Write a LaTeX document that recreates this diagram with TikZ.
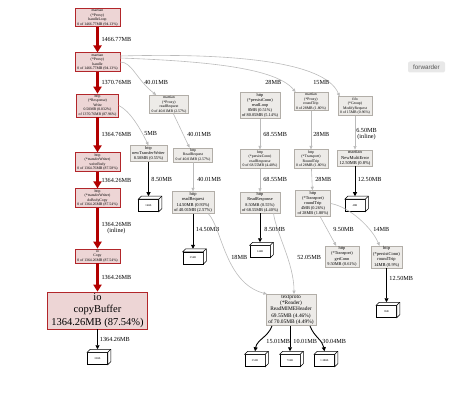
\documentclass[tikz,border=0pt]{standalone}
\usepackage{fontspec}
\setmainfont{Liberation Serif}
\newfontfamily\legendfont{Liberation Sans}
\usepackage{xcolor}
\usepackage{tikz}
\usetikzlibrary{shapes,arrows,arrows.meta,positioning}

\definecolor{hotfill}{HTML}{EDD5D5}
\definecolor{hotdraw}{HTML}{B2262A}
\definecolor{hotarrow}{HTML}{B20000}
\definecolor{coldfill}{HTML}{EDEBE8}
\definecolor{colddraw}{HTML}{B2AEA8}
\definecolor{coldarrow}{HTML}{BBBBBB}
\definecolor{legendfill}{HTML}{E8E8E8}
\definecolor{legendtext}{HTML}{555555}

\begin{document}
\begin{tikzpicture}[x=1pt, y=1pt,
    hotnode/.style={rectangle, draw=hotdraw, fill=hotfill, line width=0.6pt, align=center, inner xsep=2.2pt, inner ysep=0.8pt},
    coldnode/.style={rectangle, draw=colddraw, fill=coldfill, line width=0.5pt, align=center, inner xsep=2.2pt, inner ysep=0.8pt},
    flatzero/.style={font=\fontsize{3.8}{4.5}\selectfont},
    flatsome/.style={font=\fontsize{4.3}{5.1}\selectfont},
    flatmore/.style={font=\fontsize{4.5}{5.4}\selectfont},
    leafnode/.style={rectangle, draw, fill=white, line width=0.5pt, minimum width=20pt, minimum height=12pt, inner sep=0pt, font=\fontsize{2.8}{3.2}\selectfont},
    lbl/.style={font=\fontsize{6.2}{6.8}\selectfont, align=center, inner sep=0pt},
    hotlink/.style={draw=hotarrow, line width=3pt, -{Triangle[width=8pt,length=7pt]}},
    coldlink/.style={draw=coldarrow, line width=0.6pt, -{Triangle[width=3pt,length=3.5pt]}},
    leaflink/.style={draw=black, line width=0.9pt, -{Triangle[width=4pt,length=4pt]}}]
    \useasboundingbox (0,0) rectangle (474,413);

    \node[hotnode, flatzero] (handleLoop) at (97.5,395.5) {martian\\(*Proxy)\\handleLoop\\0 of 1466.77MB (94.13\%)};
    \node[hotnode, flatzero] (handle) at (97.5,351) {martian\\(*Proxy)\\handle\\0 of 1466.77MB (94.13\%)};
    \node[hotnode, flatzero] (respWrite) at (97.5,307.5) {http\\(*Response)\\Write\\0.50MB (0.032\%)\\of 1370.76MB (87.96\%)};
    \node[hotnode, flatzero] (writeBody) at (97.5,251) {http\\(*transferWriter)\\writeBody\\0 of 1364.76MB (87.58\%)};
    \node[hotnode, flatzero] (doBodyCopy) at (97.5,215) {http\\(*transferWriter)\\doBodyCopy\\0 of 1364.26MB (87.54\%)};
    \node[hotnode, flatzero] (ioCopy) at (97.5,157) {io\\Copy\\0 of 1364.26MB (87.54\%)};
    \node[hotnode, font=\fontsize{10.5}{12.2}\selectfont, minimum width=100pt, minimum height=37pt] (copyBuffer) at (97.5,102.5) {io\\copyBuffer\\1364.26MB (87.54\%)};
    \node[leafnode] (bufLeaf) at (97.5,54.5) {32kB};

    \node[coldnode, flatzero] (readReqProxy) at (169,308.5) {martian\\(*Proxy)\\readRequest\\0 of 40.01MB (2.57\%)};
    \node[coldnode, flatsome] (newTW) at (148.5,259.5) {http\\newTransferWriter\\8.50MB (0.55\%)};
    \node[coldnode, flatzero] (ReadReq) at (193,258) {http\\ReadRequest\\0 of 40.01MB (2.57\%)};
    \node[coldnode, flatmore] (readReq) at (193,210.5) {http\\readRequest\\14.50MB (0.93\%)\\of 40.01MB (2.57\%)};
    \node[leafnode] (twLeaf) at (148.5,207.5) {16kB};
    \node[leafnode] (rrLeaf) at (193,155) {256B};

    \node[coldnode, flatsome] (readLoop) at (260,307.5) {http\\(*persistConn)\\readLoop\\8MB (0.51\%)\\of 80.05MB (5.14\%)};
    \node[coldnode, flatzero] (readResp) at (260,254) {http\\(*persistConn)\\readResponse\\0 of 68.55MB (4.40\%)};
    \node[coldnode, flatsome] (ReadResp) at (260,210.5) {http\\ReadResponse\\8.50MB (0.55\%)\\of 68.55MB (4.40\%)};
    \node[leafnode] (respLeaf) at (260,161.5) {144B};

    \node[coldnode, flatzero] (rtProxy) at (311,311.5) {martian\\(*Proxy)\\roundTrip\\0 of 28MB (1.80\%)};
    \node[coldnode, flatzero] (RoundTrip) at (311,254) {http\\(*Transport)\\RoundTrip\\0 of 28MB (1.80\%)};
    \node[coldnode, flatsome] (rtTransport) at (313,209.5) {http\\(*Transport)\\roundTrip\\4MB (0.26\%)\\of 28MB (1.80\%)};
    \node[coldnode, flatsome] (getConn) at (342,156.5) {http\\(*Transport)\\getConn\\9.50MB (0.61\%)};
    \node[coldnode, flatmore] (pcRoundTrip) at (386.5,156) {http\\(*persistConn)\\roundTrip\\14MB (0.9\%)};
    \node[leafnode] (ptLeaf) at (386.5,101.5) {96B};

    \node[coldnode, flatzero] (modReq) at (355,307) {fifo\\(*Group)\\ModifyRequest\\0 of 15MB (0.96\%)};
    \node[coldnode, flatmore] (multiErr) at (355,255) {martian\\NewMultiError\\12.50MB (0.8\%)};
    \node[leafnode] (errLeaf) at (355,207.5) {48B};

    \node[coldnode, font=\fontsize{5.4}{6.4}\selectfont] (readMIME) at (291,103) {textproto\\(*Reader)\\ReadMIMEHeader\\69.55MB (4.46\%)\\of 70.05MB (4.49\%)};
    \node[leafnode] (hdrLeafA) at (255,52.5) {352B};
    \node[leafnode] (hdrLeafB) at (290,52.5) {704B};
    \node[leafnode] (hdrLeafC) at (324.5,52.5) {1.38kB};

    \node[rounded corners=2pt, fill=legendfill, text=legendtext, font=\legendfont\fontsize{6.3}{7}\selectfont, minimum width=37pt, minimum height=11pt, inner sep=1pt] (forwarder) at (426.5,346) {forwarder};

    \foreach \lf in {bufLeaf, twLeaf, rrLeaf, respLeaf, ptLeaf, errLeaf, hdrLeafA, hdrLeafB, hdrLeafC} {
        \filldraw[fill=white, line width=0.5pt] (\lf.north west) -- ++(3,3) -- ([shift={(3,3)}]\lf.north east) -- ([shift={(3,3)}]\lf.south east) -- (\lf.south east) -- (\lf.north east) -- cycle;
        \draw[line width=0.5pt] (\lf.north east) -- ++(3,3);
    }

    \draw[hotlink] (handleLoop) -- (handle) node[lbl, midway, right=2.5pt] {1466.77MB};
    \draw[hotlink] (handle) -- (respWrite) node[lbl, midway, right=2.5pt] {1370.76MB};
    \draw[hotlink] (respWrite) -- (writeBody) node[lbl, midway, right=2.5pt] {1364.76MB};
    \draw[hotlink] (writeBody) -- (doBodyCopy) node[lbl, midway, right=2.5pt] {1364.26MB};
    \draw[hotlink] (doBodyCopy) -- (ioCopy) node[lbl, midway, right=2.5pt] {1364.26MB\\(inline)};
    \draw[hotlink] (ioCopy) -- (copyBuffer) node[lbl, midway, right=2.5pt] {1364.26MB};
    \draw[leaflink] (copyBuffer) -- ([yshift=3pt]bufLeaf.north) node[lbl, midway, right=2pt] {1364.26MB};

    \draw[coldlink] (handle.east) .. controls (132,351) and (136,334) .. ([xshift=7pt]readReqProxy.north west) node[lbl, anchor=west] at (144,331) {40.01MB};
    \draw[coldlink] ([yshift=4pt]handle.east) .. controls (200,352) and (275,346) .. ([xshift=2pt]rtProxy.north west) node[lbl, anchor=west] at (265,331) {28MB};
    \draw[coldlink] ([yshift=6pt]handle.east) .. controls (230,360) and (325,352) .. ([xshift=2pt]modReq.north west) node[lbl, anchor=west] at (313,331) {15MB};
    \draw[coldlink] (respWrite.east) .. controls (130,302) and (140,285) .. (newTW.north) node[lbl, anchor=west] at (144,279) {5MB};
    \draw[coldlink] (readReqProxy) -- (ReadReq) node[lbl, anchor=west] at (187,279) {40.01MB};
    \draw[coldlink] (ReadReq) -- (readReq) node[lbl, anchor=west] at (197,233.5) {40.01MB};
    \draw[leaflink] (newTW) -- ([yshift=3pt]twLeaf.north) node[lbl, anchor=west] at (151,233.5) {8.50MB};
    \draw[leaflink] (readReq) -- ([yshift=3pt]rrLeaf.north) node[lbl, anchor=west] at (195.5,183.5) {14.50MB};
    \draw[coldlink] ([xshift=-6pt]readReq.south east) .. controls (222,185) and (225,130) .. ([xshift=1pt]readMIME.north west) node[lbl, anchor=west] at (231,156) {18MB};

    \draw[coldlink] (readLoop) -- (readResp) node[lbl, anchor=west] at (263,279) {68.55MB};
    \draw[coldlink] (readResp) -- (ReadResp) node[lbl, anchor=west] at (263,233.5) {68.55MB};
    \draw[leaflink] (ReadResp) -- ([yshift=3pt]respLeaf.north) node[lbl, anchor=west] at (264,183.5) {8.50MB};
    \draw[coldlink] ([xshift=-7pt]ReadResp.south east) .. controls (276,180) and (294,150) .. ([xshift=3pt]readMIME.north) node[lbl, anchor=west] at (297,156) {52.05MB};

    \draw[coldlink] (rtProxy) -- (RoundTrip) node[lbl, anchor=west] at (313,279) {28MB};
    \draw[coldlink] (RoundTrip) -- (rtTransport) node[lbl, anchor=west] at (315,233.5) {28MB};
    \draw[coldlink] (rtTransport) -- (getConn) node[lbl, anchor=west] at (333,183.5) {9.50MB};
    \draw[coldlink] (rtTransport.east) .. controls (350,206) and (372,185) .. ([xshift=-7pt]pcRoundTrip.north) node[lbl, anchor=west] at (373,183.5) {14MB};
    \draw[leaflink] (pcRoundTrip) -- ([yshift=3pt]ptLeaf.north) node[lbl, anchor=west] at (389,134.5) {12.50MB};

    \draw[coldlink] (modReq) -- (multiErr) node[lbl, anchor=west] at (356,279) {6.50MB\\(inline)};
    \draw[leaflink] (multiErr) -- ([yshift=3pt]errLeaf.north) node[lbl, anchor=west] at (357.5,233.5) {12.50MB};

    \draw[leaflink] ([xshift=-19pt]readMIME.south) to[out=-110, in=80] ([yshift=3pt]hdrLeafA.north) node[lbl, anchor=west] at (266,72) {15.01MB};
    \draw[leaflink] ([xshift=-1pt]readMIME.south) -- ([yshift=3pt]hdrLeafB.north) node[lbl, anchor=west] at (293,72) {10.01MB};
    \draw[leaflink] ([xshift=19pt]readMIME.south) to[out=-70, in=100] ([yshift=3pt]hdrLeafC.north) node[lbl, anchor=west] at (322,72) {30.04MB};
\end{tikzpicture}
\end{document}
